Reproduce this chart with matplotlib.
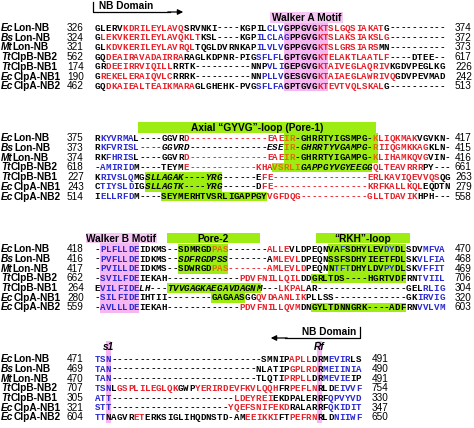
import matplotlib
matplotlib.use("Agg")
import matplotlib.pyplot as plt
from matplotlib.patches import Rectangle

names = [("Ec", "Lon-NB"), ("Bs", "Lon-NB"), ("Mt", "Lon-NB"), ("Tt", "ClpB-NB2"),
         ("Tt", "ClpB-NB1"), ("Ec", "ClpA-NB1"), ("Ec", "ClpA-NB2")]

starts = [[326, 324, 321, 562, 174, 190, 462],
          [375, 373, 374, 618, 227, 243, 514],
          [418, 416, 417, 662, 264, 280, 559],
          [471, 469, 470, 707, 305, 321, 604]]
ends = [[374, 372, 373, 617, 226, 242, 513],
        [417, 415, 416, 661, 263, 279, 558],
        [470, 468, 469, 706, 304, 320, 603],
        [491, 490, 491, 754, 330, 347, 650]]

D = "-"
block1 = [
    [("GLERV","k"),("KDRILEYLAVQ","r"),("SRVNKI----KGPIL","k"),("CLV","b"),("GPPGVG","k"),("KTSLGQSIAKAT","r"),("G"+D*10,"k")],
    [("G","k"),("LEKVKERILEYLAVQKLT","r"),("KSL----KGP","k"),("ILCLAG","b"),("PPGVG","k"),("KTSLAKSIAKSLG","r"),(D*10,"k")],
    [("GL","k"),("KDVKERILEYLAVRQL","r"),("TQGLDVRNKAP","k"),("ILVLV","b"),("GPPGVG","k"),("KTSLGRSIARS","r"),("MN"+D*10,"k")],
    [("GQ","k"),("DEAIRAVADAIRRA","r"),("RAGLKDPNR-PIG","k"),("SFLFL","b"),("GPTGVG","k"),("KTELAKTLAATLF","r"),("----DTEE--","k")],
    [("GR","k"),("DEEIRRVIQILL","r"),("RRTK"+D*10+"NNP","k"),("VLI","b"),("GEPGVG","k"),("KTAIVEGLAQRIV","r"),("KGDVPEGLKG","k")],
    [("G","k"),("REKELERAIQVLC","r"),("RRRK"+D*10+"NN","k"),("PLLV","b"),("GESGVG","k"),("KTAIAEGLAWRIVQ","r"),("GDVPEVMAD","k")],
    [("GQ","k"),("DKAIEALTEAIKMARA","r"),("GLGHEHK-PVG","k"),("SFLFA","b"),("GPTGVG","k"),("KTEVTVQLSKAL","r"),("G"+D*10,"k")],
]
block2 = [
    [("R","k"),("KYVRMA","b"),("L----GGVR","k"),("D"+D*14,"r"),("EAE","r"),("IR","o"),("-GHRRTYIGSMPG-","k"),("K","o"),("LIQKMAK","r"),("VGVKN-","k")],
    [("R","k"),("KFVRISL----","b"),("GGVRD","ki"),(D*14,"k"),("ESE","ki"),("IR","o"),("-GHRRTYVGAMPG-","ki"),("R","o"),("IIQGMKKAG","r"),("KLN-","k")],
    [("RK","k"),("FHRIS","b"),("L----GGVR","k"),("D"+D*14+"EAE","r"),("IR","o"),("-GHRRTYIGAMPG-","k"),("K","o"),("LIHAMKQVG","r"),("VIN-","k")],
    [("-","k"),("AMIRID","b"),("M----TEYM","k"),("E"+D*12+"KHA","r"),("VSRLI","o"),("GAPPGYVGYEEGG","ki"),("QLTEAVRRR","r"),("PY---","k")],
    [("K","k"),("RIVSLQ","b"),("MG","k"),("SLLAGAK----YRG","ki"),("------E","k"),("FE"+D*17+"ERLKAVIQEVVQS","r"),("QG","k")],
    [("C","k"),("TIYSLD","b"),("IG","k"),("SLLAGTK----YRG","ki"),("------D","k"),("FE"+D*17+"KRFKALLKQL","r"),("EQDTN","k")],
    [("I","k"),("ELLRFD","b"),("M----","k"),("SEYMERHTVSRLIGAPPGY","k"),("VGFDQG"+D*12+"GLLTDAVIK","r"),("HPH---","k")],
]
block3 = [
    [("-","k"),("PLFLLDE","b"),("IDKMS--SDMRGD","k"),("PAS","o"),(D*7,"k"),("ALLE","r"),("VLDPEQNVA","k"),("F","b"),("SDHYLEV","k"),("DY","b"),("DLSDV","k"),("MFVA","b")],
    [("-","k"),("PVFLLDE","b"),("IDKMS--","k"),("SDFRGDPSS","ki"),(D*7+"A","k"),("MLEVL","r"),("DPEQNSSFSDHYIEETFDLSK","k"),("VLFIA","b")],
    [("-","k"),("PVILLDE","b"),("IDKMS--SDWRGD","k"),("PAS","o"),(D*7+"AMLEVLD","r"),("PEQNN","k"),("TFT","b"),("DHYLDV","k"),("PY","b"),("DLSK","k"),("VFFIT","b")],
    [("-","k"),("SVILFDE","b"),("IEKAH"+D*13,"k"),("PDVFNILLQIL","r"),("DDGRLTDS----HGRTVDFRN","k"),("TVIIL","b")],
    [("E","k"),("VILFIDE","b"),("LH---","ki"),("TVVGAGKAEGAVDAGNM","ki"),("---","k"),("LKPAL","r"),("AR"+D*16+"GEL","k"),("RLIG","b")],
    [("-","k"),("SILFIDE","b"),("IHTII"+D*8+"GAGAASGG","k"),("QVDAANLIK","r"),("PLLSS"+D*13+"GK","k"),("IRVIG","b")],
    [("-","k"),("AVLLLDE","b"),("IEKAH"+D*13,"k"),("PDVFNILLQVM","r"),("DNGYLTDNNGRK----ADFRN","k"),("VVLVM","b")],
]
block4 = [
    [("TSN","b"),(D*27+"SMNIP","k"),("APLL","r"),("DRM","k"),("EVIR","b"),("LS","k")],
    [("TAN","b"),(D*26+"NLATIP","k"),("GPLRD","r"),("R","k"),("MEIINIA","b")],
    [("TAN","b"),(D*26+"TLQTI","k"),("PRPLL","r"),("DR","k"),("MEVIE","b"),("IP","k")],
    [("TSN","b"),("L","k"),("GSPLILEGLQK","r"),("GWP","k"),("YERIRDEVFKVLQQH","r"),("FR","k"),("PEFLN","r"),("RLD","k"),("EIVVF","b")],
    [("ATT","b"),(D*22,"k"),("LDEYREI","r"),("EKDPALERRF","k"),("QPVYVD","b")],
    [("STT","b"),(D*21,"k"),("YQEFSNIFEKD","r"),("RALARRF","k"),("QKIDIT","b")],
    [("TT","b"),("NAGVR","k"),("ET","r"),("ERKSIGLIHQDNSTD-AM","k"),("EEIKKI","r"),("FT","k"),("PEFRN","r"),("RLD","k"),("NIIWF","b")],
]
blocks = [block1, block2, block3, block4]

# green row highlights per block: (row, col_start, col_end)
green = {1: [(0,34,50),(1,34,50),(2,34,50),(3,32,49),(4,9,22),(5,9,22),(6,12,30)],
         2: [(0,15,23),(1,15,23),(2,15,23),(4,13,29),(5,21,26),
             (0,42,55),(1,42,55),(2,42,55),(3,39,55),(6,39,55)]}

RED, BLUE, ORANGE = "#e8202a", "#2a2ad0", "#e07000"
GREEN, PINK, PINKL = "#9ded13", "#f6b6f2", "#f5c8f3"
cmap = {"k": "black", "r": RED, "b": BLUE, "o": ORANGE}

W, H = 474, 428
fig = plt.figure(figsize=(W/100, H/100), dpi=100)
ax = fig.add_axes([0, 0, 1, 1])
ax.set_xlim(0, W); ax.set_ylim(H, 0); ax.axis("off")

X0, CW, RH = 94.5, 5.56, 9.7
ytop = [28, 138.3, 249.3, 359.3]
endx = [455, 455, 455, 372]

def cx(c):
    return X0 + c * CW

def box(x0, x1, y0, y1, color):
    ax.add_patch(Rectangle((x0, y0), x1 - x0, y1 - y0, color=color, lw=0, zorder=0))

# pink column highlights
box(cx(34), cx(42), 23, ytop[0] + 6*RH + 5, PINK)
box(cx(1), cx(8), 243, ytop[2] + 6*RH + 5, PINK)
box(cx(2), cx(3), 341, ytop[3] + 6*RH + 5, PINK)
box(cx(40), cx(41), 341, ytop[3] + 6*RH + 5, PINK)
for b, lst in green.items():
    for r, c0, c1 in lst:
        y = ytop[b] + r*RH
        box(cx(c0), cx(c1 + 1), y - RH/2, y + RH/2, GREEN)

# labels
def label(x0, x1, y0, y1, color, txt):
    box(x0, x1, y0, y1, color)
    ax.text((x0+x1)/2, (y0+y1)/2 + 0.5, txt, ha="center", va="center", fontsize=7.3,
            fontweight="bold", family="Liberation Sans")

label(270, 343, 12, 23, PINKL, "Walker A Motif")
label(138, 376, 122, 132.5, GREEN, "Axial \u201cGYVG\u201d-loop (Pore-1)")
label(86, 157, 233, 243, PINKL, "Walker B Motif")
label(167, 260, 233, 243, GREEN, "Pore-2")
label(316, 410, 233, 243, GREEN, "\u201cRKH\u201d-loop")
ax.text(cx(2.5), 347, "s1", ha="center", va="center", fontsize=7.3, fontweight="bold", style="italic", family="Liberation Sans")
ax.text(cx(40.5), 347, "Rf", ha="center", va="center", fontsize=7.3, fontweight="bold", style="italic", family="Liberation Sans")

# NB domain arrows
ax.plot([93, 93, 170], [2, 12, 12], color="black", lw=0.9)
ax.annotate("", xy=(186, 12), xytext=(165, 12), arrowprops=dict(arrowstyle="-|>", color="black", lw=0.9, mutation_scale=8))
ax.text(99, 6, "NB Domain", fontsize=7.3, fontweight="bold", va="center", family="Liberation Sans")
ax.plot([360, 360, 285], [327, 338, 338], color="black", lw=0.9)
ax.annotate("", xy=(268, 338), xytext=(290, 338), arrowprops=dict(arrowstyle="-|>", color="black", lw=0.9, mutation_scale=8))
ax.text(356, 332, "NB Domain", fontsize=7.3, fontweight="bold", va="center", ha="right", family="Liberation Sans")

fig.canvas.draw()
rend = fig.canvas.get_renderer()
inv = ax.transData.inverted()

for bi, blk in enumerate(blocks):
    for ri, segs in enumerate(blk):
        y = ytop[bi] + ri*RH
        t = ax.text(1, y, names[ri][0], fontsize=7.3, fontweight="bold", style="italic",
                    va="center", family="Liberation Sans")
        bb = t.get_window_extent(rend)
        xe = inv.transform((bb.x1, bb.y0))[0]
        ax.text(xe, y, names[ri][1], fontsize=7.3, fontweight="bold", va="center", family="Liberation Sans")
        ax.text(67, y, str(starts[bi][ri]), fontsize=7.2, va="center", family="Liberation Sans")
        ax.text(endx[bi], y, str(ends[bi][ri]), fontsize=7.2, va="center", family="Liberation Sans")
        col = 0
        for txt, st in segs:
            colr = cmap[st[0]]
            ital = "italic" if "i" in st else "normal"
            for ch in txt:
                ax.text(cx(col + 0.5), y, ch, ha="center", va="center", fontsize=6.6,
                        fontweight="bold", style=ital, color=colr, family="Liberation Mono")
                col += 1

fig.savefig("out.png", dpi=100)
